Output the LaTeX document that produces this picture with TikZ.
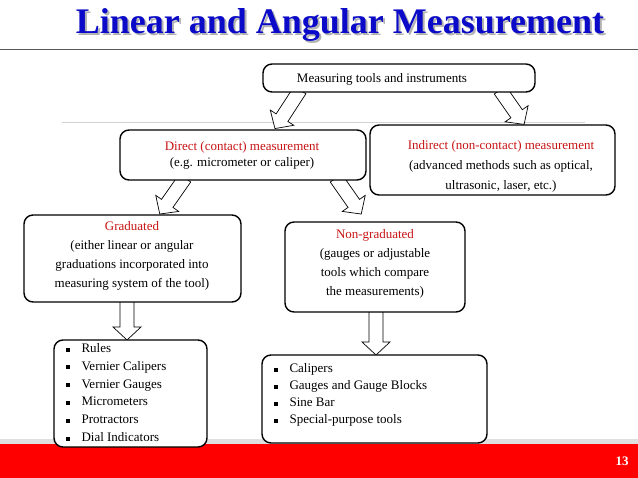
\documentclass[tikz,border=0pt]{standalone}
\usepackage{fontspec}
\setmainfont{Liberation Serif}
\definecolor{ttl}{RGB}{10,10,200}
\definecolor{lbl}{RGB}{200,20,20}
\definecolor{bar}{RGB}{255,0,0}
\newcommand\blk[3]{\draw[barr,shift={(#1)},rotate=#2] (0,-7)--(#3-13,-7)--(#3-13,-14)--(#3,0)--(#3-13,14)--(#3-13,7)--(0,7)--cycle;}
\newcommand\bul{\rule[1pt]{4pt}{4pt}\hspace{12pt}}
\begin{document}
\begin{tikzpicture}[x=1pt,y=-1pt,
 box/.style={draw,line width=1.4pt,rounded corners=9pt,fill=white},
 barr/.style={draw,line width=0.7pt,fill=white},
 txt/.style={font=\fontsize{13}{16}\selectfont,align=center},
 red/.style={text=lbl}]
\useasboundingbox (0,0) rectangle (638,478);
\fill[white] (0,0) rectangle (638,478);
% title
\node (tsh) at (342,27) {\fontsize{36}{40}\selectfont\bfseries\color{gray!60}Linear and Angular Measurement};
\node (title) at (340,25) {\fontsize{36}{40}\selectfont\bfseries\color{ttl}Linear and Angular Measurement};
\draw[gray!70!black,line width=1pt] (0,50)--(638,50);
\draw[gray!35,line width=0.8pt] (62,122)--(585,122);
% bottom bar
\fill[gray!25] (0,439) rectangle (638,444);
\fill[bar] (0,444) rectangle (638,478);
\node[text=white,font=\fontsize{13}{16}\selectfont\bfseries] (pg) at (622,461) {13};
% arrows (drawn first)
\blk{300,90}{-123}{46}
\blk{500,90}{-55}{42}
\blk{185,178}{-125}{44}
\blk{336,178}{-55}{44}
\blk{127,300}{-90}{40}
\blk{376,310}{-90}{45}
% boxes
\draw[box] (263,64) rectangle (535,92);
\node[txt] (top) at (382,79) {Measuring tools and instruments};
\draw[box] (120,130) rectangle (366,180);
\node[txt] (dir) at (242,155) {\textcolor{lbl}{Direct (contact) measurement}\\(e.g. micrometer or caliper)};
\draw[box] (370,125) rectangle (615,195);
\node[txt,font=\fontsize{13}{20}\selectfont] (ind) at (501,166) {\textcolor{lbl}{Indirect (non-contact) measurement}\\(advanced methods such as optical,\\ultrasonic, laser, etc.)};
\draw[box] (24,215) rectangle (241,302);
\node[txt,font=\fontsize{13}{19}\selectfont] (grad) at (132,256) {\textcolor{lbl}{Graduated}\\(either linear or angular\\graduations incorporated into\\measuring system of the tool)};
\draw[box] (285,222) rectangle (465,312);
\node[txt,font=\fontsize{13}{19}\selectfont] (ngrad) at (375,264) {\textcolor{lbl}{Non-graduated}\\(gauges or adjustable\\tools which compare\\the measurements)};
\draw[box] (54,340) rectangle (207,447);
\node[txt,align=left,font=\fontsize{13}{17.8}\selectfont,anchor=north west] (l1) at (62,340) {\bul Rules\\\bul Vernier Calipers\\\bul Vernier Gauges\\\bul Micrometers\\\bul Protractors\\\bul Dial Indicators};
\draw[box] (262,355) rectangle (487,443);
\node[txt,align=left,font=\fontsize{13}{17}\selectfont,anchor=north west] (l2) at (270,360) {\bul Calipers\\\bul Gauges and Gauge Blocks\\\bul Sine Bar\\\bul Special-purpose tools};
\end{tikzpicture}
\end{document}
